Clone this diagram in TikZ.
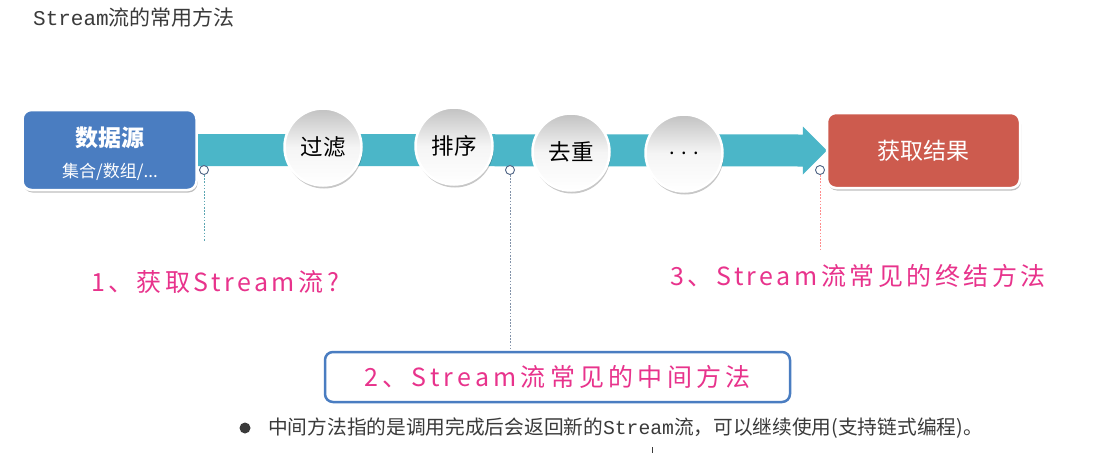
\documentclass[tikz,border=0pt]{standalone}
\usepackage{fontspec}
\setmainfont{Noto Sans CJK SC}
\newfontfamily\monof{Liberation Mono}
\newfontfamily\handf[LetterSpace=14]{Noto Sans CJK SC}
\newfontfamily\handwide[LetterSpace=17]{Noto Sans CJK SC}
\usetikzlibrary{shadows,calc}
\definecolor{bandc}{HTML}{4BB6C8}
\definecolor{bluec}{HTML}{4A7DC1}
\definecolor{redc}{HTML}{CD5B4E}
\definecolor{pinkc}{HTML}{E8338C}
\definecolor{titlec}{HTML}{3A3A3A}
\definecolor{dotring}{HTML}{4D6384}
\tikzset{
  mainbox/.style={rectangle, rounded corners=9pt, draw=white, line width=2.5pt, text=white, inner sep=0pt,
    drop shadow={shadow xshift=1pt, shadow yshift=-2.5pt, opacity=0.25, fill=black}},
  disc/.style={circle, minimum size=77pt, inner sep=0pt, draw=white, line width=2.5pt,
    top color=black!24, bottom color=white, middle color=black!4,
    drop shadow={shadow xshift=1pt, shadow yshift=-3pt, opacity=0.22, fill=black},
    font=\fontsize{22.5}{26}\selectfont, text=black},
  pin/.style={circle, minimum size=9pt, inner sep=0pt, draw=dotring, line width=0.9pt, fill=white},
  guide/.style={line width=0.8pt, dash pattern=on 1.6pt off 1.6pt},
  hand/.style={text=pinkc, font=\handf\fontsize{25}{30}\selectfont, inner sep=0pt},
}
\begin{document}
\begin{tikzpicture}[x=1pt,y=-1pt]
\useasboundingbox (0,0) rectangle (1100,453);
\fill[white] (0,0) rectangle (1100,453);

\node[anchor=west, text=titlec, font=\fontsize{21}{25}\selectfont, inner sep=0pt] (title) at (33,18) {{\monof Stream}流的常用方法};

% node frames (placed first so the band can refer to them)
\coordinate (src) at (109.5,150);
\coordinate (res) at (923.5,150.5);
\path (src) node[minimum width=174pt, minimum height=80pt, inner sep=0pt] (srcb) {};
\path (res) node[minimum width=193pt, minimum height=75pt, inner sep=0pt] (resb) {};

% band arrow
\fill[bandc] ([yshift=16pt]srcb.east) -- ([xshift=-24pt,yshift=16pt]resb.west)
  -- ([xshift=-24pt,yshift=24pt]resb.west) -- (resb.west)
  -- ([xshift=-24pt,yshift=-24pt]resb.west) -- ([xshift=-24pt,yshift=-16pt]resb.west)
  -- ([yshift=-16pt]srcb.east) -- cycle;

\node[mainbox, fill=bluec, minimum width=174pt, minimum height=80pt] (srcbox) at (src) {};
\node[text=white, font=\fontsize{23}{26}\selectfont\bfseries, inner sep=0pt] (srct) at (110,138) {数据源};
\node[text=white, font=\fontsize{17}{20}\selectfont, inner sep=0pt] (srcs) at (110,172) {集合/数组/...};
\node[mainbox, fill=redc, minimum width=193pt, minimum height=75pt, font=\fontsize{23}{26}\selectfont] (resbox) at (res) {获取结果};

\node[disc] (s1) at (323,147) {过滤};
\node[disc] (s2) at (454,146) {排序};
\node[disc] (s3) at (571,152) {去重};
\node[disc, font=\fontsize{20}{24}\selectfont] (s4) at (684,153) {.\,\,.\,\,.};

\node[pin] (p1) at (204,170) {};
\node[pin] (p2) at (510,170) {};
\node[pin] (p3) at (820,170) {};

\coordinate (g1) at (204,242);
\coordinate (g3) at (820,250);
\draw[guide, draw=bandc!70!gray] (p1.south) -- (g1);
\draw[guide, draw=red!45] (p3.south) -- (g3);

\node[hand] (l1) at (215,282) {1、获取Stream流?};
\node[hand] (l3) at (858,276) {3、Stream流常见的终结方法};
\node[hand, font=\handwide\fontsize{25}{30}\selectfont, draw=bluec, line width=2.5pt, rounded corners=8pt, fill=white, minimum width=465pt, minimum height=50pt] (l2) at (557.5,377) {2、Stream流常见的中间方法};
\draw[guide, draw=dotring!70] (p2.south) -- (p2.south |- l2.north);

\node[circle, fill=titlec, minimum size=11pt, inner sep=0pt] (bul) at (245,428) {};
\node[anchor=west, text=titlec, font=\fontsize{19.7}{23}\selectfont, inner sep=0pt] (note) at (268,428)
  {中间方法指的是调用完成后会返回新的{\monof Stream}流，可以继续使用(支持链式编程)。};
\coordinate (tk) at (652,447);
\draw[titlec, line width=0.8pt] (tk) -- ++(0,6);
\end{tikzpicture}
\end{document}
